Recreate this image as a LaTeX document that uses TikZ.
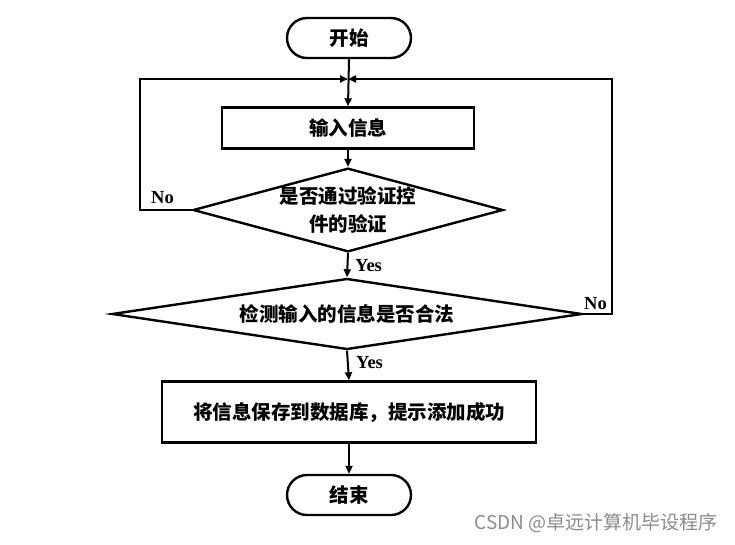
\documentclass[tikz,border=0pt]{standalone}
\usepackage{fontspec}
\setmainfont{Liberation Serif}
\newfontfamily\cjk{Noto Sans CJK SC}
\usetikzlibrary{shapes.geometric,arrows.meta}
\begin{document}
\begin{tikzpicture}[x=1pt,y=-1pt,
  every path/.style={line width=2.4pt},
  term/.style={draw,rectangle,rounded corners=20pt,minimum width=124pt,minimum height=40pt,inner sep=0pt,font=\cjk\bfseries\fontsize{19.5}{22}\selectfont},
  proc/.style={draw,rectangle,inner sep=0pt,font=\cjk\bfseries\fontsize{19.5}{22}\selectfont},
  dec/.style={draw,diamond,inner sep=0pt,align=center,font=\cjk\bfseries\fontsize{19.5}{28}\selectfont},
  lbl/.style={font=\bfseries\fontsize{18.5}{20}\selectfont,inner sep=0pt},
  arr/.style={-{Triangle[length=8pt,width=7pt]},line width=2pt}
]
\useasboundingbox[fill=white] (0,0) rectangle (735,544);
\node[term] (start) at (349,38) {开始};
\node[proc,minimum width=252pt,minimum height=41pt] (in) at (348,128) {输入信息};
\node[dec,aspect=3.7,minimum width=310pt,minimum height=83pt] (d1) at (348,210) {是否通过验证控\\件的验证};
\node[dec,aspect=6.6,minimum width=470pt,minimum height=71pt] (d2) at (347,314) {检测输入的信息是否合法};
\node[proc,minimum width=374pt,minimum height=61pt] (save) at (349,412) {将信息保存到数据库，提示添加成功};
\node[term] (end) at (349,495) {结束};

\coordinate (j) at (348,79);
\coordinate (l1) at (140,79);
\coordinate (r1) at (612,79);

\draw[arr] (start.south) -- (in.north);
\draw[arr] (in.south) -- (d1.north);
\draw[arr] (d1.south) -- (d2.north);
\draw[arr] (d2.south) -- (save.north);
\draw[arr] (save.south) -- (end.north);
\draw[arr] (d1.west) -| (l1) -- (j);
\draw[arr] (d2.east) -| (r1) -- (j);

\node[lbl,anchor=west] (no1) at (150,198) {No};
\node[lbl,anchor=west] (no2) at (583,304) {No};
\node[lbl,anchor=west] (yes1) at (354,266) {Yes};
\node[lbl,anchor=west] (yes2) at (355,363) {Yes};

\node[font=\cjk\fontsize{19}{22}\selectfont,text=black!45,anchor=east,inner sep=0pt] (wm) at (719,523) {CSDN @卓远计算机毕设程序};
\end{tikzpicture}
\end{document}
